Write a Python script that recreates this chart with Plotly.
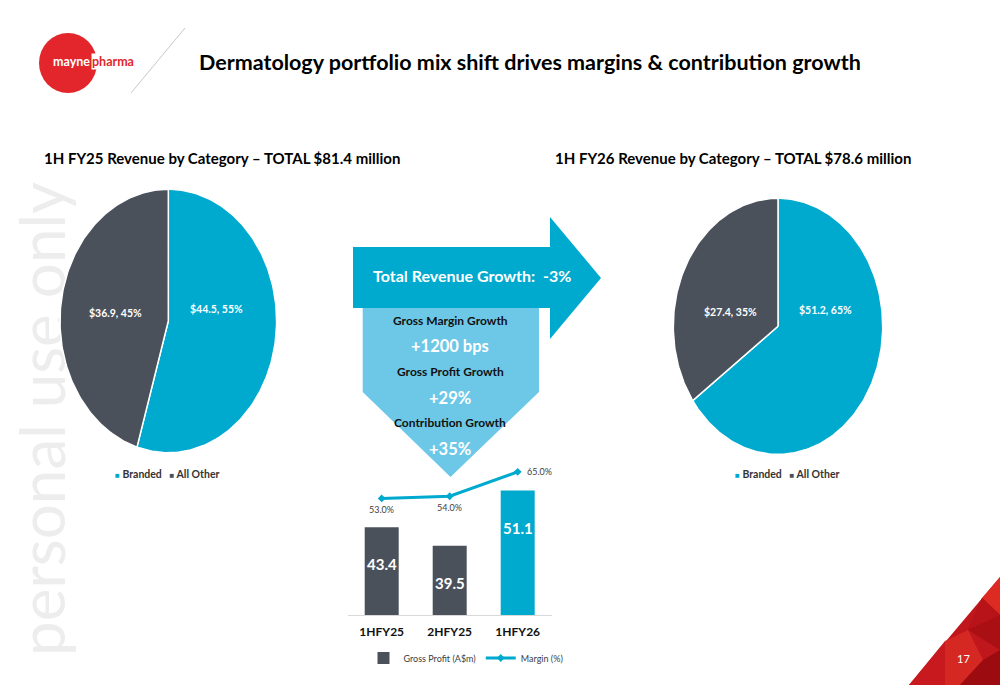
import numpy as np
import plotly.graph_objects as go

# ---------------- data ----------------
categories = ["Branded", "All Other"]
fy25_values = [44.5, 36.9]
fy26_values = [51.2, 27.4]
periods = ["1HFY25", "2HFY25", "1HFY26"]
gross_profit = [43.4, 39.5, 51.1]
margin_pct = [53.0, 54.0, 65.0]
growth_labels = ["Gross Margin Growth", "Gross Profit Growth", "Contribution Growth"]
growth_values = ["+1200 bps", "+29%", "+35%"]
revenue_growth = "-3%"

# ---------------- style ----------------
W, H = 1000, 685
BLUE = "#00A9CE"
GREY = "#4B515B"
LIGHT = "#6DC8E8"
RED = "#E3262B"
FONT = "Lato"
slice_colors = [BLUE, GREY]


def px(x):
    return x / W


def py(y):
    return 1 - y / H


def path(points):
    return "M" + " L".join(f"{px(x):.5f},{py(y):.5f}" for x, y in points) + " Z"


fig = go.Figure()


# ---------------- pies (drawn as filled slices on scaled axes) ----------------
def add_pie(values, xa, ya):
    total = sum(values)
    c = 0.0
    for name, v, col in zip(categories, values, slice_colors):
        a0, a1 = c / total, (c + v) / total
        c += v
        t = np.linspace(a0, a1, int(300 * (a1 - a0)) + 2)
        th = np.pi / 2 - 2 * np.pi * t
        xs = np.concatenate([[0], np.cos(th), [0]])
        ys = np.concatenate([[0], np.sin(th), [0]])
        fig.add_trace(go.Scatter(
            x=xs, y=ys, mode="lines", fill="toself", fillcolor=col,
            line=dict(color="white", width=1.5), xaxis=xa, yaxis=ya,
            showlegend=False, name=name, hoverinfo="name"))


add_pie(fy25_values, "x", "y")
add_pie(fy26_values, "x2", "y2")

# ---------------- bar + line ----------------
bar_colors = [GREY, GREY, BLUE]
fig.add_trace(go.Bar(
    x=periods, y=gross_profit, marker=dict(color=bar_colors, line=dict(width=0)),
    name="Gross Profit (A$m)", xaxis="x3", yaxis="y3", hoverinfo="x+y"))
fig.add_trace(go.Scatter(
    x=periods, y=margin_pct, mode="lines+markers", name="Margin (%)",
    line=dict(color=BLUE, width=3), marker=dict(symbol="diamond", size=6, color=BLUE),
    xaxis="x3", yaxis="y4"))

for i, (p, v) in enumerate(zip(periods, margin_pct)):
    last = i == len(periods) - 1
    fig.add_annotation(x=p, y=v, xref="x3", yref="y4", showarrow=False,
                       text=f"{v:.1f}%", xanchor="left" if last else "center",
                       xshift=7 if last else 0, yshift=0 if last else -11,
                       font=dict(family=FONT, size=9, color="#404040"))

for p, v in zip(periods, gross_profit):
    fig.add_annotation(x=p, y=v, xref="x3", yref="y3", yshift=-37, showarrow=False,
                       text=f"{v:.1f}", font=dict(family=FONT, size=15, color="white", weight="bold"))

# ---------------- axes ----------------
def pie_axes(cx, cy, rx, ry):
    k = 1.02
    xd = [px(cx - k * rx), px(cx + k * rx)]
    yd = [py(cy + k * ry), py(cy - k * ry)]
    ax = dict(range=[-k, k], visible=False, fixedrange=True)
    return dict(domain=xd, **ax), dict(domain=yd, **ax)


xa1, ya1 = pie_axes(168.3, 321.0, 108.3, 131.7)
xa2, ya2 = pie_axes(778.0, 326.3, 104.7, 128.0)

fig.update_layout(
    width=W, height=H, margin=dict(l=0, r=0, t=0, b=0),
    paper_bgcolor="white", plot_bgcolor="rgba(0,0,0,0)",
    font=dict(family=FONT, color="#222"),
    xaxis=xa1, yaxis=ya1,
    xaxis2=dict(anchor="y2", **xa2), yaxis2=dict(anchor="x2", **ya2),
    xaxis3=dict(domain=[px(347.7), px(551.7)], anchor="y3", type="category",
                range=[-0.5, 2.5], showline=True, linecolor="#D9D9D9", linewidth=1,
                showgrid=False, zeroline=False, ticks="", ticklabelstandoff=6,
                tickfont=dict(family=FONT, size=12, color="#111", weight="bold"),
                fixedrange=True),
    yaxis3=dict(domain=[py(615), py(465)], anchor="x3", range=[25, 25 + 150 / 4.77],
                visible=False, showgrid=False, fixedrange=True),
    yaxis4=dict(overlaying="y3", side="right", range=[0.5, 0.5 + 150 / 2.22],
                visible=False, showgrid=False, fixedrange=True),
    bargap=0.5,
    showlegend=True,
    legend=dict(orientation="h", x=px(466), xanchor="center", y=py(658), yanchor="middle",
                font=dict(family=FONT, size=9, color="#404040"), bgcolor="rgba(0,0,0,0)",
                itemwidth=30, tracegroupgap=0),
)

# ---------------- decorative shapes ----------------
shapes = []
# watermark (behind everything)
shapes.append(dict(type="rect", xref="paper", yref="paper", layer="below",
                   x0=px(4), x1=px(76), y0=py(680), y1=py(158),
                   line=dict(width=0), fillcolor="rgba(0,0,0,0)",
                   label=dict(text="personal use only", textangle=-90, textposition="middle center",
                              font=dict(family=FONT, size=62, color="#EDEDED"))))
# logo
shapes.append(dict(type="circle", xref="paper", yref="paper", layer="below",
                   x0=px(39), x1=px(97), y0=py(93), y1=py(33),
                   fillcolor=RED, line=dict(width=0)))
shapes.append(dict(type="line", xref="paper", yref="paper",
                   x0=px(131), y0=py(93), x1=px(185), y1=py(28),
                   line=dict(color="#C8C8C8", width=1)))
# light down arrow
shapes.append(dict(type="path", xref="paper", yref="paper", layer="below",
                   path=path([(362.7, 300), (539, 300), (539, 392), (450.5, 477), (362.7, 392)]),
                   fillcolor=LIGHT, line=dict(width=0)))
# dark right arrow
shapes.append(dict(type="path", xref="paper", yref="paper", layer="below",
                   path=path([(353, 247), (550, 247), (550, 217), (601, 278), (550, 339),
                              (550, 308), (353, 308)]),
                   fillcolor=BLUE, line=dict(width=0)))
# red corner facets
shapes.append(dict(type="path", xref="paper", yref="paper", layer="below",
                   path=path([(909, 685), (1000, 577), (1000, 685)]),
                   fillcolor="#C0171C", line=dict(width=0)))
facets = [
    ([(1000, 577), (1000, 615), (982, 598)], "#DD2A22"),
    ([(982, 598), (1000, 615), (1000, 650), (968, 630)], "#A90F13"),
    ([(945, 641), (968, 630), (983, 660), (960, 685), (945, 685)], "#D62823"),
    ([(983, 660), (1000, 650), (1000, 685), (960, 685)], "#9C0B0F"),
    ([(909, 685), (945, 641), (945, 685)], "#C81A1E"),
    ([(968, 630), (982, 598), (1000, 615)], "#B71318"),
]
for pts, col in facets:
    shapes.append(dict(type="path", xref="paper", yref="paper", layer="below",
                       path=path(pts), fillcolor=col, line=dict(width=0)))
fig.update_layout(shapes=shapes)

# ---------------- text ----------------
def txt(x, y, text, size, color="#111", bold=True, xanchor="center", **kw):
    fig.add_annotation(x=px(x), y=py(y), xref="paper", yref="paper", text=text,
                       showarrow=False, xanchor=xanchor, yanchor="middle",
                       font=dict(family=FONT, size=size, color=color,
                                 weight="bold" if bold else "normal"), **kw)


txt(197, 62, "Dermatology portfolio mix shift drives margins & contribution growth", 21.5,
    color="#000", xanchor="left")
txt(42, 158, f"1H FY25 Revenue by Category – TOTAL ${sum(fy25_values):.1f} million", 15,
    color="#000", xanchor="left")
txt(553, 158, f"1H FY26 Revenue by Category – TOTAL ${sum(fy26_values):.1f} million", 15,
    color="#000", xanchor="left")
# logo text
txt(91, 61, "mayne", 12.5, color="white", xanchor="right", borderpad=0)
txt(91, 61, "pharma", 12.5, color=RED, xanchor="left", bgcolor="white", borderpad=0)

# pie labels
label_pos_25 = [(0.447, 0.089), (-0.486, 0.058)]
label_pos_26 = [(0.456, 0.127), (-0.458, 0.114)]
for vals, pos, xr, yr in [(fy25_values, label_pos_25, "x", "y"),
                          (fy26_values, label_pos_26, "x2", "y2")]:
    tot = sum(vals)
    for v, (lx, ly) in zip(vals, pos):
        fig.add_annotation(x=lx, y=ly, xref=xr, yref=yr, showarrow=False,
                           text=f"${v:.1f}, {round(100 * v / tot)}%",
                           font=dict(family=FONT, size=10.5, color="white", weight="bold"))

# pie legends
legend_html = "&nbsp;&nbsp;&nbsp;".join(
    f"<span style='color:{c};font-size:8px'>■</span> {n}" for n, c in zip(categories, slice_colors))
txt(167.5, 474, legend_html, 10.5, color="#333")
txt(787.5, 474, legend_html, 10.5, color="#333")

# arrow texts
txt(471.5, 275, f"Total Revenue Growth:  {revenue_growth}", 16, color="white")
for i, (lab, val) in enumerate(zip(growth_labels, growth_values)):
    txt(450, 320 + 51 * i, lab, 12, color="#111")
    txt(450, 346.5 + 51 * i, val, 16.5, color="white")

# page number
txt(963, 658, "17", 11, color="white", bold=False)

fig.write_html("out.html")
